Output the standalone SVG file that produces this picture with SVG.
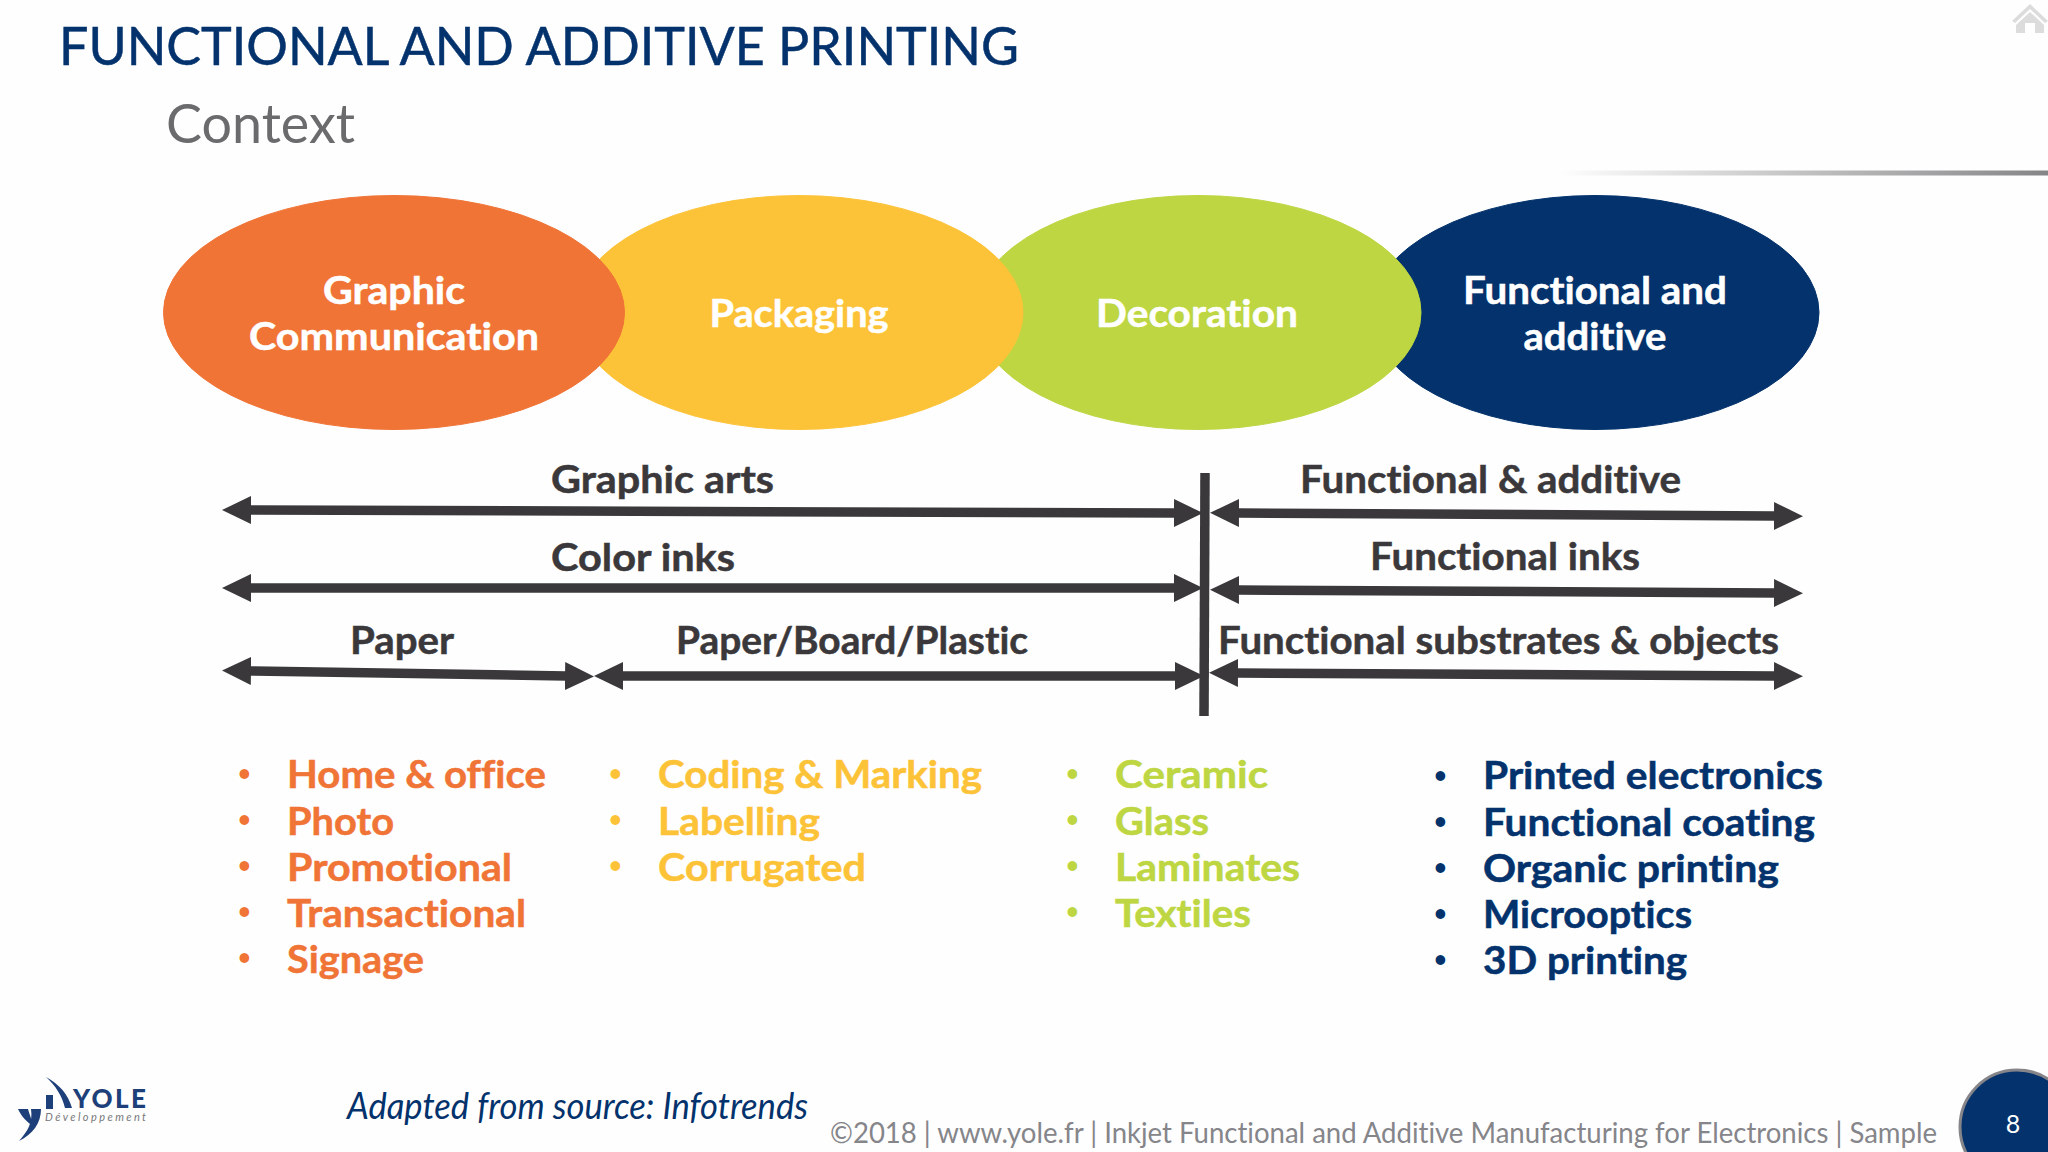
<svg xmlns="http://www.w3.org/2000/svg" width="2048" height="1152" viewBox="0 0 2048 1152">
<style>
text{font-family:"Lato","Open Sans","Liberation Sans",sans-serif;font-variant-ligatures:none}
.oval{font-weight:700;font-size:38px;fill:#fff;stroke:#fff;stroke-width:.5;text-anchor:middle}
.lab{font-weight:700;font-size:38px;fill:#3a383b;stroke:#3a383b;stroke-width:.5}
.li{font-weight:700;font-size:38px}
.bl{font-size:22px;font-weight:700;stroke:none}
.lst{stroke-width:.5}
.arr{fill:none;stroke:#3a383b;stroke-width:9.5;marker-start:url(#h);marker-end:url(#h)}
.or{fill:#f07436;stroke:#f07436}.ye{fill:#fdc338;stroke:#fdc338}.gr{fill:#bdd642;stroke:#bdd642}.na{fill:#03326c;stroke:#03326c}
ellipse{stroke:none}
</style>
<defs>
<marker id="h" markerUnits="userSpaceOnUse" markerWidth="32" markerHeight="32" refX="1" refY="15" viewBox="0 0 32 30" orient="auto-start-reverse"><path d="M0,1 L29,15 L0,29 Z" fill="#3a383b"/></marker>
<linearGradient id="rule" x1="0" x2="1" y1="0" y2="0"><stop offset="0" stop-color="#fff"/><stop offset=".45" stop-color="#c8c8c8"/><stop offset="1" stop-color="#858588"/></linearGradient>
</defs>
<rect width="2048" height="1152" fill="#fefefe"/>
<g id="header">
<text x="59" y="65" font-size="52" fill="#03326c" stroke="#03326c" stroke-width=".5" textLength="960" lengthAdjust="spacingAndGlyphs">FUNCTIONAL AND ADDITIVE PRINTING</text>
<text x="166" y="143" font-size="54" fill="#6b6b6e" textLength="189" lengthAdjust="spacingAndGlyphs">Context</text>
<rect x="1556" y="170.500" width="492" height="5" fill="url(#rule)"/>
<path d="M2030,4 L2048,21 L2045,23 L2030,9 L2015,23 L2012,21 Z M2030,12 L2044,25 L2044,33 L2035,33 L2035,23 L2025,23 L2025,33 L2016,33 L2016,25 Z" fill="#dcdcdc"/>
</g>
<g id="node-functional"><ellipse class="na" cx="1595" cy="312.500" rx="224" ry="117"/><text class="oval" x="1595" y="304" textLength="264" lengthAdjust="spacingAndGlyphs">Functional and</text><text class="oval" x="1595" y="350" textLength="143" lengthAdjust="spacingAndGlyphs">additive</text></g>
<g id="node-decoration"><ellipse class="gr" cx="1198" cy="312.500" rx="223" ry="117"/><text class="oval" x="1197" y="327" textLength="202" lengthAdjust="spacingAndGlyphs">Decoration</text></g>
<g id="node-packaging"><ellipse class="ye" cx="799" cy="312.500" rx="224" ry="117"/><text class="oval" x="799" y="327" textLength="179" lengthAdjust="spacingAndGlyphs">Packaging</text></g>
<g id="node-graphic"><ellipse class="or" cx="394" cy="312.500" rx="230.500" ry="117"/><text class="oval" x="394" y="304" textLength="142" lengthAdjust="spacingAndGlyphs">Graphic</text><text class="oval" x="394" y="350" textLength="290" lengthAdjust="spacingAndGlyphs">Communication</text></g>
<g id="connectors">
<path class="arr" d="M250,510 L1175,513"/>
<path class="arr" d="M1238,513 L1775,516"/>
<path class="arr" d="M250,588 L1175,588"/>
<path class="arr" d="M1238,590 L1775,593"/>
<path class="arr" d="M250,671 L566,676"/>
<path class="arr" d="M622,676 L1176,676"/>
<path class="arr" d="M1237,673 L1775,676"/>
<path d="M1205,473 L1204,716" fill="none" stroke="#3a383b" stroke-width="9.500"/>
</g>
<g id="labels">
<text class="lab" x="551" y="493" textLength="223" lengthAdjust="spacingAndGlyphs">Graphic arts</text>
<text class="lab" x="551" y="571" textLength="184" lengthAdjust="spacingAndGlyphs">Color inks</text>
<text class="lab" x="350" y="654" textLength="104" lengthAdjust="spacingAndGlyphs">Paper</text>
<text class="lab" x="676" y="654" textLength="352" lengthAdjust="spacingAndGlyphs">Paper/Board/Plastic</text>
<text class="lab" x="1300" y="493" textLength="381" lengthAdjust="spacingAndGlyphs">Functional &amp; additive</text>
<text class="lab" x="1370" y="570" textLength="270" lengthAdjust="spacingAndGlyphs">Functional inks</text>
<text class="lab" x="1218" y="654" textLength="561" lengthAdjust="spacingAndGlyphs">Functional substrates &amp; objects</text>
</g>
<g id="list-graphic" class="or lst">
<text class="bl" x="238" y="781">•</text><text class="bl" x="238" y="827">•</text><text class="bl" x="238" y="873">•</text><text class="bl" x="238" y="919">•</text><text class="bl" x="238" y="965">•</text>
<text class="li" x="287" y="788" textLength="259" lengthAdjust="spacingAndGlyphs">Home &amp; office</text><text class="li" x="287" y="835" textLength="107" lengthAdjust="spacingAndGlyphs">Photo</text><text class="li" x="287" y="881" textLength="225" lengthAdjust="spacingAndGlyphs">Promotional</text><text class="li" x="287" y="927" textLength="239" lengthAdjust="spacingAndGlyphs">Transactional</text><text class="li" x="287" y="973" textLength="137" lengthAdjust="spacingAndGlyphs">Signage</text>
</g>
<g id="list-packaging" class="ye lst">
<text class="bl" x="609" y="781">•</text><text class="bl" x="609" y="827">•</text><text class="bl" x="609" y="873">•</text>
<text class="li" x="658" y="788" textLength="324" lengthAdjust="spacingAndGlyphs">Coding &amp; Marking</text><text class="li" x="658" y="835" textLength="162" lengthAdjust="spacingAndGlyphs">Labelling</text><text class="li" x="658" y="881" textLength="208" lengthAdjust="spacingAndGlyphs">Corrugated</text>
</g>
<g id="list-decoration" class="gr lst">
<text class="bl" x="1066" y="781">•</text><text class="bl" x="1066" y="827">•</text><text class="bl" x="1066" y="873">•</text><text class="bl" x="1066" y="919">•</text>
<text class="li" x="1115" y="788" textLength="153" lengthAdjust="spacingAndGlyphs">Ceramic</text><text class="li" x="1115" y="835" textLength="94" lengthAdjust="spacingAndGlyphs">Glass</text><text class="li" x="1115" y="881" textLength="185" lengthAdjust="spacingAndGlyphs">Laminates</text><text class="li" x="1115" y="927" textLength="136" lengthAdjust="spacingAndGlyphs">Textiles</text>
</g>
<g id="list-functional" class="na lst">
<text class="bl" x="1434" y="783">•</text><text class="bl" x="1434" y="829">•</text><text class="bl" x="1434" y="875">•</text><text class="bl" x="1434" y="921">•</text><text class="bl" x="1434" y="967">•</text>
<text class="li" x="1483" y="789" textLength="340" lengthAdjust="spacingAndGlyphs">Printed electronics</text><text class="li" x="1483" y="836" textLength="332" lengthAdjust="spacingAndGlyphs">Functional coating</text><text class="li" x="1483" y="882" textLength="296" lengthAdjust="spacingAndGlyphs">Organic printing</text><text class="li" x="1483" y="928" textLength="209" lengthAdjust="spacingAndGlyphs">Microoptics</text><text class="li" x="1483" y="974" textLength="204" lengthAdjust="spacingAndGlyphs">3D printing</text>
</g>
<g id="logo" fill="#1d3f7a">
<path d="M46,1077 C60,1085 68,1094 72,1108 L65,1108 C62,1096 56,1086 46,1077 Z"/>
<rect x="46" y="1095" width="7" height="14"/>
<path d="M18,1109 L28,1109 C30,1116 32,1120 33,1126 C27,1122 21,1116 18,1109 Z"/>
<path d="M31,1109 L41,1109 C41,1123 33,1134 19,1141 C28,1131 33,1122 31,1109 Z"/>
<text x="73" y="1108" font-size="26" font-weight="900" textLength="73" lengthAdjust="spacing">YOLE</text>
<text x="45" y="1121" font-size="11" font-style="italic" fill="#77787b" textLength="101" lengthAdjust="spacing">Développement</text>
</g>
<g id="footer">
<text x="347" y="1119" font-size="36" font-style="italic" fill="#03326c" textLength="461" lengthAdjust="spacingAndGlyphs">Adapted from source: Infotrends</text>
<text x="830" y="1143" font-size="29" fill="#85858a" textLength="1107" lengthAdjust="spacingAndGlyphs">©2018 | www.yole.fr | Inkjet Functional and Additive Manufacturing for Electronics | Sample</text>
<circle cx="2017" cy="1127" r="57" fill="#03326c" stroke="#85858a" stroke-width="3"/>
<text x="2013" y="1133" font-size="25" fill="#fff" text-anchor="middle">8</text>
</g>
</svg>
